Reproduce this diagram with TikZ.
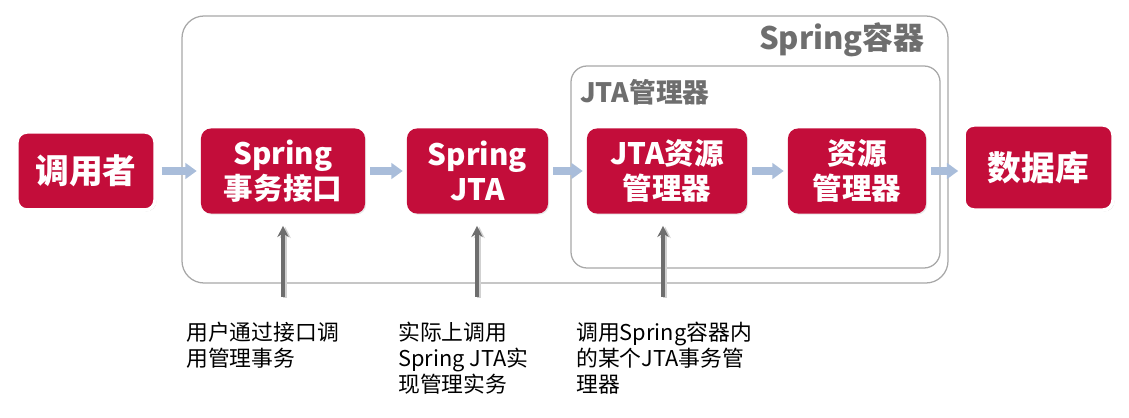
\documentclass[tikz,border=0pt]{standalone}
\usepackage{fontspec}
\setmainfont{Noto Sans CJK SC}
\usepackage{xcolor}
\usepackage{tikz}
\usetikzlibrary{positioning,calc,arrows.meta,shadows}
\definecolor{jred}{HTML}{C30D3A}
\definecolor{jflow}{HTML}{A9BDDA}
\definecolor{jgray}{HTML}{6E6E6E}
\definecolor{jframe}{HTML}{A8A8A8}

\begin{document}
\begin{tikzpicture}[x=0.025cm, y=-0.025cm,
  redbox/.style={rectangle, rounded corners=0.25cm, fill=jred, text=white, align=center,
    font=\bfseries\fontsize{21}{25}\selectfont, minimum height=2.125cm, inner sep=0pt,
    drop shadow={opacity=0.18, shadow xshift=0.8pt, shadow yshift=-0.8pt}},
  endbox/.style={redbox, draw=white, line width=2.5pt, font=\bfseries\fontsize{24}{28}\selectfont,
    drop shadow={opacity=0.3, shadow xshift=1pt, shadow yshift=-1pt}},
  flow/.style={draw=jflow, line width=5pt, -{Triangle[length=8pt,width=11pt]},
    shorten <=0.12cm, shorten >=0.1cm},
  pointer/.style={draw=jgray, line width=2.6pt, -{Stealth[length=8pt,width=8pt]}, shorten >=0.3cm,
    preaction={draw=black!18, line width=2.6pt, transform canvas={xshift=1.6pt, yshift=-0.8pt}}},
  frame/.style={draw=jframe, line width=0.9pt},
  framelbl/.style={text=jgray, font=\bfseries\fontsize{22}{26}\selectfont, inner sep=0pt},
  note/.style={anchor=north west, align=left, inner sep=0pt, font=\fontsize{15.5}{18.5}\selectfont},
]
\useasboundingbox (0,0) rectangle (1129,418);
\draw[frame, rounded corners=0.55cm] (182,16) rectangle (948,283);
\draw[frame, rounded corners=0.4cm] (571,66) rectangle (940,268);
\node[framelbl, anchor=east] (springlbl) at (925,40) {Spring容器};
\node[framelbl, anchor=west, font=\bfseries\fontsize{19}{22}\selectfont] (jtalbl) at (580,92) {JTA管理器};

\node[endbox, minimum width=3.45cm, minimum height=1.95cm] (caller) at (86,171) {调用者};
\node[redbox, minimum width=4.1cm] (iface) at (283,171) {Spring\\事务接口};
\node[redbox, minimum width=3.525cm] (sjta) at (477.5,171) {Spring\\JTA};
\node[redbox, minimum width=4.0cm] (jtarm) at (667,171) {JTA资源\\管理器};
\node[redbox, minimum width=3.45cm] (rm) at (857,171) {资源\\管理器};
\node[endbox, minimum width=3.725cm] (db) at (1038.5,167.5) {数据库};

\foreach \a/\b in {caller/iface, iface/sjta, sjta/jtarm, jtarm/rm, rm/db}
  \draw[flow] (\a.east) -- (\a.east -| \b.west);

\coordinate (p1) at (283,297);
\coordinate (p2) at (477,297);
\coordinate (p3) at (663,297);
\draw[pointer] (p1) -- (p1 |- iface.south);
\draw[pointer] (p2) -- (p2 |- sjta.south);
\draw[pointer] (p3) -- (p3 |- jtarm.south);

\node[note] (note1) at (186,322) {用户通过接口调\\用管理事务};
\node[note] (note2) at (398,322) {实际上调用\\Spring JTA实\\现管理实务};
\node[note] (note3) at (576,322) {调用Spring容器内\\的某个JTA事务管\\理器};
\end{tikzpicture}
\end{document}
